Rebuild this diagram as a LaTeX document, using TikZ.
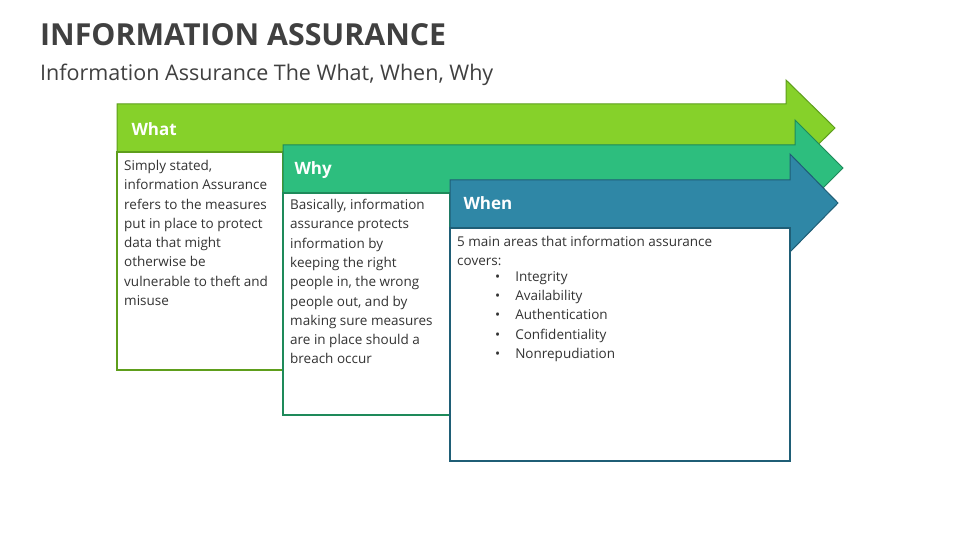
\documentclass[tikz,border=0pt]{standalone}
\usepackage{fontspec}
\setmainfont{Open Sans}
\begin{document}
\begin{tikzpicture}[x=1pt,y=-1pt,
  arr/.style={line width=1pt},
  box/.style={fill=white,line width=1.2pt},
  lab/.style={anchor=west,text=white,font=\bfseries\fontsize{17}{20}\selectfont},
  body/.style={anchor=north west,align=left,text=black!80,font=\fontsize{13.5}{19.3}\selectfont,inner sep=0pt}]
\definecolor{cgreen}{HTML}{86D12A}\definecolor{dgreen}{HTML}{5E9E1C}
\definecolor{cteal}{HTML}{2DBE7E}\definecolor{dteal}{HTML}{1E8A5A}
\definecolor{cblue}{HTML}{2F87A6}\definecolor{dblue}{HTML}{1F5E76}
\fill[white] (0,0) rectangle (960,540);
\useasboundingbox (0,0) rectangle (960,540);
\node[anchor=west,inner sep=0pt,text=black!75,font=\bfseries\fontsize{30.3}{34}\selectfont] (title) at (40,35) {INFORMATION ASSURANCE};
\node[anchor=west,inner sep=0pt,text=black!75,font=\fontsize{21.5}{25}\selectfont] (sub) at (40,75) {Information Assurance The What, When, Why};
% What
\draw[arr,draw=dgreen,fill=cgreen] (117,104) -- (786,104) -- (786,80) -- (835,128) -- (786,176) -- (786,152) -- (117,152) -- cycle;
\node[lab] (what) at (128,129) {What};
\draw[box,draw=dgreen] (117,152) rectangle (283,370);
\node[body] (tw) at (124,160) {Simply stated,\\information Assurance\\refers to the measures\\put in place to protect\\data that might\\otherwise be\\vulnerable to theft and\\misuse};
% Why
\draw[arr,draw=dteal,fill=cteal] (283,145) -- (795,145) -- (795,120) -- (843,168) -- (795,216) -- (795,193) -- (283,193) -- cycle;
\node[lab] (why) at (291,170) {Why};
\draw[box,draw=dteal] (283,193) rectangle (450,415);
\node[body] (ty) at (290,199) {Basically, information\\assurance protects\\information by\\keeping the right\\people in, the wrong\\people out, and by\\making sure measures\\are in place should a\\breach occur};
% When
\draw[arr,draw=dblue,fill=cblue] (450,180) -- (790,180) -- (790,154) -- (838,203) -- (790,252) -- (790,228) -- (450,228) -- cycle;
\node[lab] (when) at (460,203) {When};
\draw[box,draw=dblue] (450,228) rectangle (790,461);
\node[body] (tn) at (457,236) {5 main areas that information assurance\\covers:};
\node[body] (tl) at (495,271) {\textbullet\hspace{15pt}Integrity\\\textbullet\hspace{15pt}Availability\\\textbullet\hspace{15pt}Authentication\\\textbullet\hspace{15pt}Confidentiality\\\textbullet\hspace{15pt}Nonrepudiation};
\end{tikzpicture}
\end{document}
